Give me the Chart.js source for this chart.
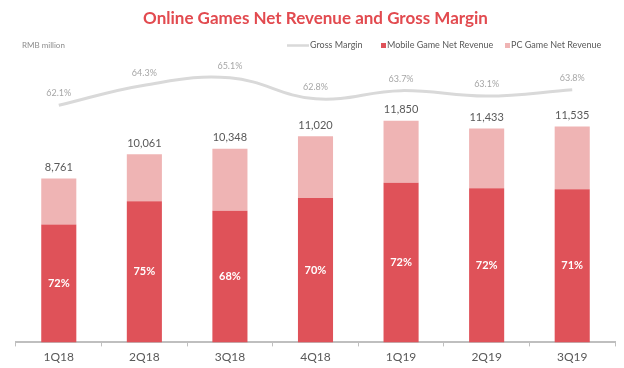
<!DOCTYPE html>
<html>
<head>
<meta charset="utf-8">
<script src="https://cdn.jsdelivr.net/npm/chart.js@4"></script>
<style>
  html, body { margin: 0; padding: 0; background: #fff; }
  #wrap { width: 624px; height: 368px; position: relative; }
</style>
</head>
<body>
<div id="wrap"><canvas id="my-chart"></canvas></div>
<script>
const quarters = ["1Q18", "2Q18", "3Q18", "4Q18", "1Q19", "2Q19", "3Q19"];
const totalRevenue = [8761, 10061, 10348, 11020, 11850, 11433, 11535];
const mobileRevenue = [6300, 7546, 7037, 7714, 8532, 8232, 8190];
const pcRevenue = [2461, 2515, 3311, 3306, 3318, 3201, 3345];
const mobileShare = ["72%", "75%", "68%", "70%", "72%", "72%", "71%"];
const grossMargin = [62.1, 64.3, 65.1, 62.8, 63.7, 63.1, 63.8];

const FONT = "Lato, 'Open Sans', sans-serif";
const RED = "#df5259";
const PINK = "#efb4b4";
const LINE_GREY = "#d9d9d9";

// value labels on bars / line, plus the unit and legend row
const labelsPlugin = {
  id: "labels",
  afterDatasetsDraw(chart) {
    const ctx = chart.ctx;
    const lineMeta = chart.getDatasetMeta(0);
    const mobileMeta = chart.getDatasetMeta(1);
    const pcMeta = chart.getDatasetMeta(2);
    ctx.save();
    ctx.textAlign = "center";
    ctx.textBaseline = "middle";

    pcMeta.data.forEach((bar, i) => {
      ctx.fillStyle = "#595959";
      ctx.font = "11px " + FONT;
      ctx.fillText(totalRevenue[i].toLocaleString("en-US"), bar.x, bar.y - 11);
    });

    mobileMeta.data.forEach((bar, i) => {
      ctx.fillStyle = "#ffffff";
      ctx.font = "bold 11px " + FONT;
      ctx.fillText(mobileShare[i], bar.x, (bar.y + bar.base) / 2);
    });

    lineMeta.data.forEach((pt, i) => {
      ctx.fillStyle = "#a6a6a6";
      ctx.font = "9px " + FONT;
      ctx.fillText(grossMargin[i].toFixed(1) + "%", pt.x, pt.y - 12);
    });

    ctx.textAlign = "left";
    ctx.font = "8px " + FONT;
    ctx.fillStyle = "#8c8c8c";
    ctx.fillText("RMB million", 22, 45);

    ctx.font = "9px " + FONT;
    ctx.fillStyle = "#595959";
    ctx.strokeStyle = LINE_GREY;
    ctx.lineWidth = 2.5;
    ctx.beginPath();
    ctx.moveTo(287, 45.5);
    ctx.lineTo(309, 45.5);
    ctx.stroke();
    ctx.fillText("Gross Margin", 310, 45);

    ctx.fillStyle = RED;
    ctx.fillRect(381, 43, 5, 5);
    ctx.fillStyle = "#595959";
    ctx.fillText("Mobile Game Net Revenue", 387, 45);

    ctx.fillStyle = PINK;
    ctx.fillRect(505, 43, 5, 5);
    ctx.fillStyle = "#595959";
    ctx.fillText("PC Game Net Revenue", 511, 45);
    ctx.restore();
  },
};

const ctx = document.getElementById("my-chart").getContext("2d");
const chart = new Chart(ctx, {
  type: "bar",
  data: {
    labels: quarters,
    datasets: [
      {
        type: "line",
        label: "Gross Margin",
        data: grossMargin,
        yAxisID: "y2",
        borderColor: LINE_GREY,
        borderWidth: 3,
        pointRadius: 0,
        tension: 0.4,
        fill: false,
      },
      {
        label: "Mobile Game Net Revenue",
        data: mobileRevenue,
        backgroundColor: RED,
        stack: "rev",
      },
      {
        label: "PC Game Net Revenue",
        data: pcRevenue,
        backgroundColor: PINK,
        stack: "rev",
      },
    ],
  },
  options: {
    responsive: true,
    maintainAspectRatio: false,
    animation: false,
    layout: { padding: { left: 16, right: 9, bottom: 0 } },
    datasets: {
      bar: { categoryPercentage: 1, barPercentage: 0.41 },
    },
    plugins: {
      legend: { display: false },
      tooltip: { enabled: false },
      title: {
        display: true,
        text: "Online Games Net Revenue and Gross Margin",
        color: "#e24a4f",
        font: { family: FONT, size: 17, weight: "bold" },
        padding: { top: 8, bottom: 14.6 },
      },
    },
    scales: {
      x: {
        stacked: true,
        border: { color: "#bfbfbf", width: 2 },
        grid: {
          drawOnChartArea: false,
          drawTicks: true,
          tickLength: 4,
          color: "#bfbfbf",
          offset: true,
        },
        ticks: {
          color: "#595959",
          font: { family: FONT, size: 12 },
          padding: 3.6,
        },
      },
      y: {
        stacked: true,
        display: false,
        min: 0,
        max: 16000,
      },
      y2: {
        display: false,
        min: 36.16,
        max: 68.91,
      },
    },
  },
  plugins: [labelsPlugin],
});
</script>
</body>
</html>
